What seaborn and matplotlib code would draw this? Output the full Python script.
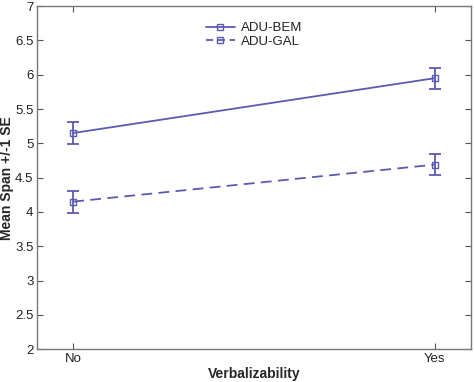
import pandas as pd
import seaborn as sns
import matplotlib.pyplot as plt
from matplotlib.lines import Line2D

# values
verbal = ['No', 'Yes']
bem_mean = [5.15, 5.95]
bem_se = [0.165, 0.155]
gal_mean = [4.15, 4.69]
gal_se = [0.16, 0.15]

df = pd.DataFrame({'Verbalizability': verbal * 2,
                   'x': [0, 1, 0, 1],
                   'mean': bem_mean + gal_mean,
                   'se': bem_se + gal_se,
                   'Group': ['ADU-BEM'] * 2 + ['ADU-GAL'] * 2})

sns.set_style('ticks')
plt.rcParams['font.family'] = ['Liberation Sans', 'DejaVu Sans']
col = '#5a5aae'
dash = (6, 3.5)

fig, ax = plt.subplots(figsize=(4.74, 3.82), dpi=100)
fig.subplots_adjust(left=0.078, right=0.994, top=0.984, bottom=0.086)

sns.lineplot(data=df, x='x', y='mean', style='Group', style_order=['ADU-BEM', 'ADU-GAL'],
             dashes={'ADU-BEM': '', 'ADU-GAL': dash}, markers={'ADU-BEM': 's', 'ADU-GAL': 's'},
             color=col, lw=1.3, markersize=5, markerfacecolor='none', markeredgecolor=col,
             markeredgewidth=1.0, ax=ax, legend=False)
for g in ['ADU-BEM', 'ADU-GAL']:
    d = df[df.Group == g]
    ax.errorbar(d.x, d['mean'], yerr=d.se, fmt='none', ecolor=col, elinewidth=1.3,
                capsize=4, capthick=1.3)

ax.set_xlim(-0.1, 1.1)
ax.set_ylim(2, 7)
ax.set_xticks([0, 1])
ax.set_xticklabels(verbal)
ax.set_yticks([2, 2.5, 3, 3.5, 4, 4.5, 5, 5.5, 6, 6.5, 7])
ax.set_yticklabels(['2', '2.5', '3', '3.5', '4', '4.5', '5', '5.5', '6', '6.5', '7'])
ax.tick_params(direction='in', top=True, right=True, length=4, width=0.8,
               color='#555555', labelsize=9.5, labelcolor='#222222', pad=2.5)
for s in ax.spines.values():
    s.set_color('#777777')
    s.set_linewidth(1.0)
ax.set_xlabel('Verbalizability', fontsize=10, fontweight='bold', labelpad=2)
ax.set_ylabel('Mean Span +/-1 SE', fontsize=10, fontweight='bold', labelpad=1)

handles = [Line2D([], [], color=col, lw=1.3, marker='s', markersize=5,
                  markerfacecolor='none', markeredgewidth=1.0, linestyle='-'),
           Line2D([], [], color=col, lw=1.3, marker='s', markersize=5,
                  markerfacecolor='none', markeredgewidth=1.0, linestyle=(0, (4, 2.5)))]
leg = ax.legend(handles, ['ADU-BEM', 'ADU-GAL'], loc='upper center',
                bbox_to_anchor=(0.5, 1.0), frameon=False,
                fontsize=9.5, handlelength=2.2, handletextpad=0.5, labelspacing=0.1,
                borderaxespad=0.8)
for t in leg.get_texts():
    t.set_color('#222222')

fig.savefig('out.png', dpi=100)
